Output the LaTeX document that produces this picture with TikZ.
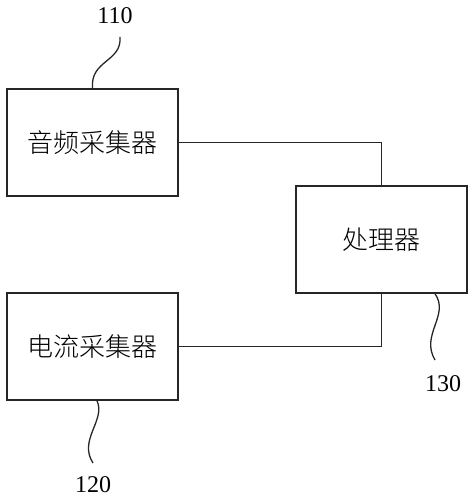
\documentclass[tikz,border=0pt]{standalone}
\usepackage{fontspec}
\setmainfont{Liberation Serif}
\newfontfamily\cjk{Noto Sans CJK SC Light}
\begin{document}
\begin{tikzpicture}[x=1pt,y=-1pt,
  blk/.style={draw=black!85, line width=1.5pt, minimum width=171pt, minimum height=107pt, inner sep=0pt, font=\cjk\fontsize{26}{30}\selectfont},
  wire/.style={draw=black!85, line width=1.7pt},
  lead/.style={draw=black!85, line width=1.3pt},
  num/.style={font=\fontsize{24}{28}\selectfont, inner sep=0pt}]
\useasboundingbox (0,0) rectangle (474,500);
\node[blk] (b1) at (92.5,142.5) {音频采集器};
\node[blk] (b2) at (381.5,239.5) {处理器};
\node[blk] (b3) at (92.5,346.5) {电流采集器};
\draw[wire] (b1.east) -| (b2.north);
\draw[wire] (b3.east) -| (b2.south);
\node[num] (n110) at (115,16) {110};
\node[num] (n120) at (93,485) {120};
\node[num] (n130) at (443,384) {130};
\coordinate (t110) at (120,37);
\coordinate (t120) at (93,463);
\coordinate (t130) at (435,360);
\draw[lead] (t110) .. controls (122,62) and (90,60) .. (b1.north);
\draw[lead] ([xshift=4.5pt]b3.south) .. controls (106,420) and (78,440) .. (t120);
\draw[lead] ([xshift=53.5pt]b2.south) .. controls (450,315) and (420,335) .. (t130);
\end{tikzpicture}
\end{document}
